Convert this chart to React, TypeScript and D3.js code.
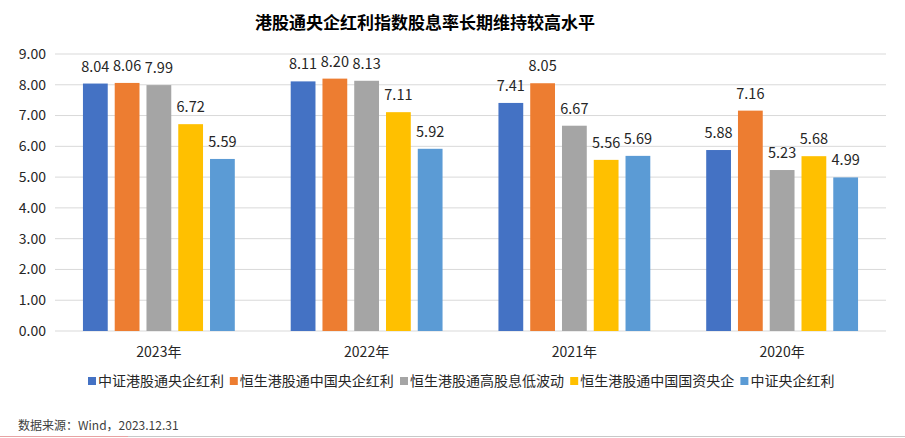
import * as d3 from "d3";

const WIDTH = 905;
const HEIGHT = 438;
const MARGIN = { top: 54, right: 19, bottom: 107, left: 55 };

const years = ["2023年", "2022年", "2021年", "2020年"];
const seriesNames = [
  "中证港股通央企红利",
  "恒生港股通中国央企红利",
  "恒生港股通高股息低波动",
  "恒生港股通中国国资央企",
  "中证央企红利",
];
const colors = ["#4472C4", "#ED7D31", "#A5A5A5", "#FFC000", "#5B9BD5"];

// values per series, in the order of years
const csiSoeHk = [8.04, 8.11, 7.41, 5.88];
const hsiSoeDividend = [8.06, 8.2, 8.05, 7.16];
const hsiHighDivLowVol = [7.99, 8.13, 6.67, 5.23];
const hsiStateOwned = [6.72, 7.11, 5.56, 5.68];
const csiSoeDividend = [5.59, 5.92, 5.69, 4.99];
const seriesValues = [csiSoeHk, hsiSoeDividend, hsiHighDivLowVol, hsiStateOwned, csiSoeDividend];

const yTicks = [0, 1, 2, 3, 4, 5, 6, 7, 8, 9];

const FONT = "'Noto Sans CJK SC', 'Microsoft YaHei', sans-serif";

export default function App() {
  const boundsWidth = WIDTH - MARGIN.left - MARGIN.right;
  const boundsHeight = HEIGHT - MARGIN.top - MARGIN.bottom;

  const x0 = d3.scaleBand().domain(years).range([0, boundsWidth]).padding(0);
  const x1 = d3
    .scaleBand()
    .domain(seriesNames)
    .range([0, x0.bandwidth()])
    .paddingInner(0.22)
    .paddingOuter(0.88);
  const yScale = d3.scaleLinear().domain([0, 9]).range([boundsHeight, 0]);

  // legend layout
  const charW = 14.2;
  let cursor = 88;
  const legendItems = seriesNames.map((name, i) => {
    const item = { name, color: colors[i], x: cursor };
    cursor += 9 + name.length * charW + 5;
    return item;
  });

  return (
    <svg
      width={WIDTH}
      height={HEIGHT}
      style={{ position: "absolute", left: 0, top: 0, background: "#fff" }}
      fontFamily={FONT}
    >
      <text
        x={425}
        y={29}
        textAnchor="middle"
        fontSize={17}
        fontWeight="bold"
        fill="#000"
      >
        港股通央企红利指数股息率长期维持较高水平
      </text>

      <g transform={`translate(${MARGIN.left},${MARGIN.top})`}>
        {yTicks.map((t) => (
          <g key={t}>
            <line
              x1={0}
              x2={boundsWidth}
              y1={yScale(t)}
              y2={yScale(t)}
              stroke="#D9D9D9"
              strokeWidth={1}
            />
            <text
              x={-9}
              y={yScale(t)}
              dy="0.35em"
              textAnchor="end"
              fontSize={14}
              fill="#262626"
            >
              {t.toFixed(2)}
            </text>
          </g>
        ))}

        {years.map((yr, yi) => (
          <g key={yr} transform={`translate(${x0(yr)},0)`}>
            {seriesNames.map((s, si) => {
              const v = seriesValues[si][yi];
              const bx = x1(s) as number;
              return (
                <g key={s}>
                  <rect
                    x={bx}
                    y={yScale(v)}
                    width={x1.bandwidth()}
                    height={boundsHeight - yScale(v)}
                    fill={colors[si]}
                  />
                  <text
                    x={bx + x1.bandwidth() / 2}
                    y={yScale(v) - 12}
                    textAnchor="middle"
                    fontSize={14.5}
                    fill="#262626"
                  >
                    {v.toFixed(2)}
                  </text>
                </g>
              );
            })}
            <text
              x={x0.bandwidth() / 2}
              y={boundsHeight + 26}
              textAnchor="middle"
              fontSize={14}
              fill="#262626"
            >
              {yr}
            </text>
          </g>
        ))}
      </g>

      {legendItems.map((it) => (
        <g key={it.name}>
          <rect x={it.x} y={377} width={8} height={8} fill={it.color} />
          <text x={it.x + 10} y={381} dy="0.35em" fontSize={14} fill="#262626">
            {it.name}
          </text>
        </g>
      ))}

      <text x={18} y={426} dy="0.35em" fontSize={12} fill="#404040">
        数据来源：Wind，2023.12.31
      </text>
      <line x1={0} x2={128} y1={436.5} y2={436.5} stroke="#E8A3A3" strokeWidth={1} />
      <line x1={128} x2={WIDTH} y1={436.5} y2={436.5} stroke="#C8C8C8" strokeWidth={1} />
    </svg>
  );
}
